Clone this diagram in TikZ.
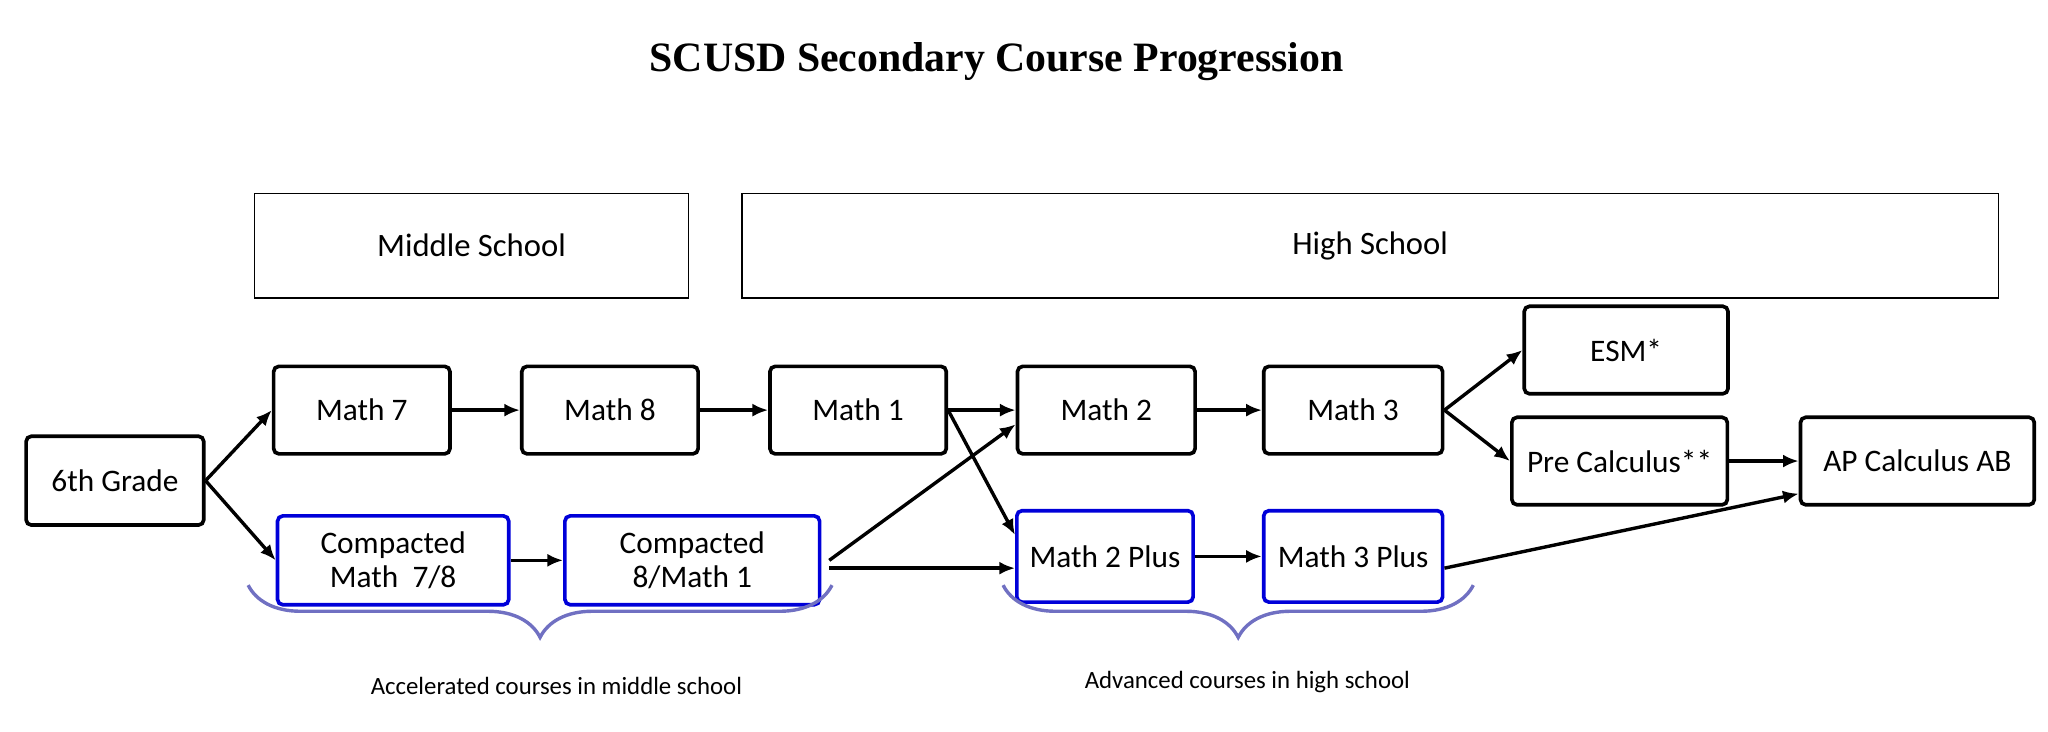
\documentclass[tikz,border=0pt]{standalone}
\usepackage{fontspec}
\setmainfont{Carlito}
\newfontfamily\titlefont{Liberation Serif}
\usetikzlibrary{arrows.meta,decorations.pathreplacing}
\begin{document}
\begin{tikzpicture}[x=0.5pt,y=-0.5pt,
  bx/.style={draw,line width=1.4pt,rounded corners=2pt,inner sep=0pt,font=\fontsize{12}{13}\selectfont,align=center},
  bb/.style={bx,draw=blue!85!black},
  hdr/.style={draw,line width=0.6pt,inner sep=0pt,font=\fontsize{12.5}{14}\selectfont},
  ar/.style={line width=1.3pt,-{Latex[length=6pt,width=5pt]}},
  br/.style={draw=blue!40!gray!80,line width=1.3pt,decorate,decoration={brace,mirror,amplitude=20pt}}]
\useasboundingbox (0,0) rectangle (1568,560);
\node[font=\titlefont\bfseries\fontsize{16}{18}\selectfont] (t) at (763,47) {SCUSD Secondary Course Progression};
\node[hdr,minimum width=166pt,minimum height=40pt] (ms) at (361,188) {Middle School};
\node[hdr,minimum width=481pt,minimum height=40pt] (hs) at (1049,188) {High School};
\node[bx,minimum width=68pt,minimum height=34pt] (g6) at (88,368) {6th Grade};
\node[bx,minimum width=67.5pt,minimum height=33.5pt] (m7) at (277,314) {Math 7};
\node[bx,minimum width=67.5pt,minimum height=33.5pt] (m8) at (467,314) {Math 8};
\node[bx,minimum width=67.5pt,minimum height=33.5pt] (m1) at (657,314) {Math 1};
\node[bx,minimum width=68pt,minimum height=33.5pt] (m2) at (847,314) {Math 2};
\node[bx,minimum width=68.5pt,minimum height=33.5pt] (m3) at (1036,314) {Math 3};
\node[bx,minimum width=78pt,minimum height=33.5pt] (esm) at (1245,268) {ESM*};
\node[bx,minimum width=82.5pt,minimum height=33.5pt] (pc) at (1240,353) {Pre Calculus**};
\node[bx,minimum width=89.5pt,minimum height=33.5pt] (ap) at (1468,353) {AP Calculus AB};
\node[bb,minimum width=88.5pt,minimum height=34pt] (c78) at (301,429) {Compacted\\Math\ \ 7/8};
\node[bb,minimum width=97.5pt,minimum height=34pt] (c81) at (530,429) {Compacted\\8/Math 1};
\node[bb,minimum width=67.5pt,minimum height=35pt] (m2p) at (846,426) {Math 2 Plus};
\node[bb,minimum width=68.5pt,minimum height=35pt] (m3p) at (1036,426) {Math 3 Plus};
\draw[ar] (g6.east) -- (m7.west);
\draw[ar] (g6.east) -- (c78.west);
\draw[ar] (m7) -- (m8);
\draw[ar] (m8) -- (m1);
\draw[ar] (m1) -- (m2);
\draw[ar] (m1.east) -- ([yshift=-10pt]m2p.north west);
\draw[ar] (m2) -- (m3);
\draw[ar] (m3.east) -- (esm.west);
\draw[ar] (m3.east) -- (pc.west);
\draw[ar] (pc) -- (ap);
\draw[ar] (c78) -- (c81);
\draw[ar] ([xshift=3pt]c81.east) -- ([yshift=12pt]m2.south west);
\draw[ar] ([xshift=3pt,yshift=-3pt]c81.east) -- ([yshift=-4.5pt]m2p.west);
\draw[ar] (m2p) -- (m3p);
\draw[ar] ([yshift=-4.5pt]m3p.east) -- ([yshift=-12.5pt]ap.west);
\draw[br] (190,448) -- coordinate(b1) (637,448);
\draw[br] (768,448) -- coordinate(b2) (1128,448);
\node[font=\fontsize{9.5}{11}\selectfont] (l1) at (426,525) {Accelerated courses in middle school};
\node[font=\fontsize{9.5}{11}\selectfont] (l2) at (955,522) {Advanced courses in high school};
\end{tikzpicture}
\end{document}
